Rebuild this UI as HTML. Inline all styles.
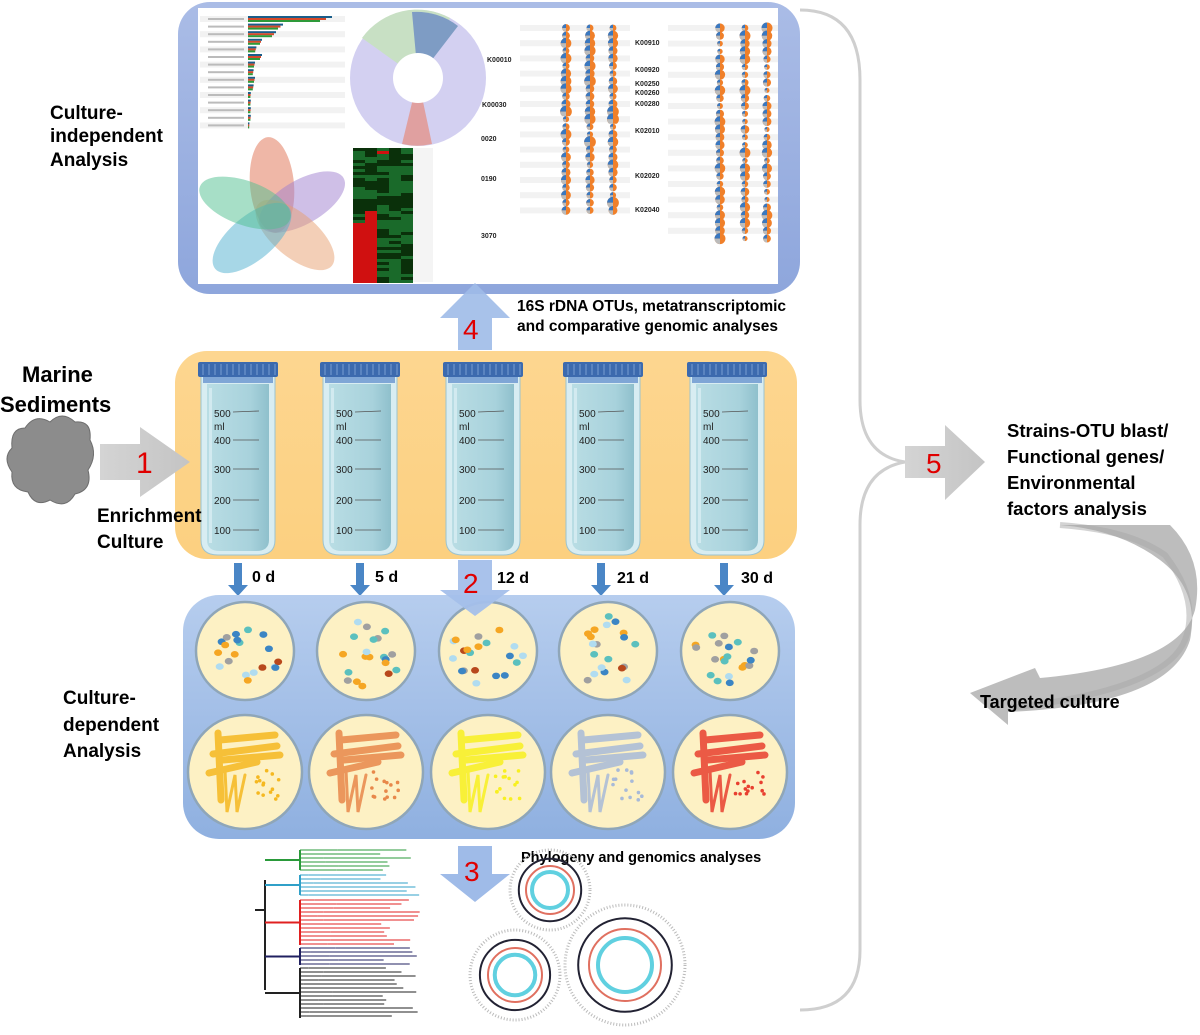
<!DOCTYPE html>
<html><head><meta charset="utf-8"><style>
html,body{margin:0;padding:0;background:#fff;width:1200px;height:1035px;overflow:hidden}
svg{display:block}
.b{font-family:"Liberation Sans",Arial,sans-serif;font-weight:bold;fill:#000}
.r{font-family:"Liberation Sans",Arial,sans-serif;fill:#e00000}
</style></head><body>
<svg id="s" width="1200" height="1035" viewBox="0 0 1200 1035" xmlns="http://www.w3.org/2000/svg">
<defs>
<linearGradient id="gTop" x1="0" y1="0" x2="0" y2="1"><stop offset="0" stop-color="#aabce6"/><stop offset="1" stop-color="#8ea6dc"/></linearGradient>
<linearGradient id="gBlue" x1="0" y1="0" x2="0" y2="1"><stop offset="0" stop-color="#b6cdee"/><stop offset="1" stop-color="#8fb0e0"/></linearGradient>
<linearGradient id="gOr" x1="0" y1="0" x2="0" y2="1"><stop offset="0" stop-color="#fdd690"/><stop offset="1" stop-color="#fcd080"/></linearGradient>
<linearGradient id="gArr" x1="0" y1="0" x2="1" y2="0"><stop offset="0" stop-color="#d4d4d4"/><stop offset="1" stop-color="#c4c4c4"/></linearGradient>
<linearGradient id="gLiq" x1="0" y1="0" x2="1" y2="0"><stop offset="0" stop-color="#b9dde4"/><stop offset="0.7" stop-color="#a8d2dc"/><stop offset="1" stop-color="#8fc0cc"/></linearGradient>
<symbol id="jar" viewBox="-42 0 84 200" width="84" height="200" overflow="visible">
 <path d="M-37 14 L-37 178 Q-37 193 -20 193 L20 193 Q37 193 37 178 L37 14 Z" fill="#d8edf2" stroke="#9cc3cf"/>
 <path d="M-31 22 L-31 178 Q-31 189 -18 189 L18 189 Q31 189 31 178 L31 22 Z" fill="url(#gLiq)"/>
 <rect x="-29" y="26" width="3" height="155" fill="#d8eef2" opacity=".8"/>
 <rect x="-40" y="0" width="80" height="15" rx="2" fill="#3c6aae"/>
 <g stroke="#6f95cc" stroke-width="1.2">
  <line x1="-35" y1="2" x2="-35" y2="13"/><line x1="-29" y1="2" x2="-29" y2="13"/><line x1="-23" y1="2" x2="-23" y2="13"/><line x1="-17" y1="2" x2="-17" y2="13"/><line x1="-11" y1="2" x2="-11" y2="13"/><line x1="-5" y1="2" x2="-5" y2="13"/><line x1="1" y1="2" x2="1" y2="13"/><line x1="7" y1="2" x2="7" y2="13"/><line x1="13" y1="2" x2="13" y2="13"/><line x1="19" y1="2" x2="19" y2="13"/><line x1="25" y1="2" x2="25" y2="13"/><line x1="31" y1="2" x2="31" y2="13"/><line x1="37" y1="2" x2="37" y2="13"/>
 </g>
 <rect x="-35" y="15" width="70" height="6" fill="#7fa6d6"/>
 <g stroke="#555" stroke-width=".8">
  <line x1="-5" y1="50" x2="21" y2="49"/><line x1="-5" y1="78" x2="21" y2="78"/><line x1="-5" y1="107" x2="21" y2="107"/><line x1="-5" y1="138" x2="21" y2="138"/><line x1="-5" y1="168" x2="21" y2="168"/>
 </g>
 <g font-family="Liberation Sans,Arial,sans-serif" font-size="10" fill="#222">
  <text x="-24" y="55">500</text><text x="-24" y="68">ml</text><text x="-24" y="82">400</text><text x="-24" y="111">300</text><text x="-24" y="142">200</text><text x="-24" y="172">100</text>
 </g>
</symbol>
</defs>

<rect x="178" y="2" width="622" height="292" rx="32" fill="url(#gTop)"/>
<rect x="198" y="8" width="580" height="276" fill="#fff"/>
<g id="topdeco"></g>

<text class="b" font-size="19" x="50" y="119">Culture-</text>
<text class="b" font-size="19" x="50" y="142">independent</text>
<text class="b" font-size="19" x="50" y="166">Analysis</text>

<path d="M475 283 L510 318 L492 318 L492 350 L458 350 L458 318 L440 318 Z" fill="#9fbbe8" opacity=".9"/>
<text class="r" font-size="28" x="463" y="339">4</text>
<text class="b" font-size="15.5" x="517" y="311">16S rDNA OTUs, metatranscriptomic</text>
<text class="b" font-size="15.5" x="517" y="331">and comparative genomic analyses</text>

<rect x="175" y="351" width="622" height="208" rx="32" fill="url(#gOr)"/>
<use href="#jar" x="196" y="362"/>
<use href="#jar" x="318" y="362"/>
<use href="#jar" x="441" y="362"/>
<use href="#jar" x="561" y="362"/>
<use href="#jar" x="685" y="362"/>

<text class="b" font-size="22" x="22" y="382">Marine</text>
<text class="b" font-size="22" x="0" y="412">Sediments</text>
<path d="M25 428 Q35 413 50 422 Q62 410 75 422 Q92 420 90 440 Q98 455 88 470 Q93 490 75 494 Q66 510 50 500 Q35 508 28 492 Q10 490 12 472 Q2 458 12 448 Q10 428 25 428 Z" fill="#8c8c8c" stroke="#6e6e6e"/>
<path d="M100 444 L140 444 L140 427 L190 462 L140 497 L140 480 L100 480 Z" fill="url(#gArr)"/>
<text class="r" font-size="30" x="136" y="473">1</text>
<text class="b" font-size="19" x="97" y="522">Enrichment</text>
<text class="b" font-size="19" x="97" y="548">Culture</text>

<g fill="#4a86c6">
<path d="M234 563 h8 v22 h6 l-10 11 l-10 -11 h6z"/>
<path d="M356 563 h8 v22 h6 l-10 11 l-10 -11 h6z"/>
<path d="M597 563 h8 v22 h6 l-10 11 l-10 -11 h6z"/>
<path d="M720 563 h8 v22 h6 l-10 11 l-10 -11 h6z"/>
</g>
<g class="b" font-size="16">
<text x="252" y="582">0 d</text><text x="375" y="582">5 d</text><text x="497" y="583">12 d</text><text x="617" y="583">21 d</text><text x="741" y="583">30 d</text>
</g>

<rect x="183" y="595" width="612" height="244" rx="36" fill="url(#gBlue)"/>
<g id="plates"></g>
<path d="M458 560 h34 v30 h18 l-35 26 l-35 -26 h18z" fill="#a4bfea" opacity=".95"/>
<text class="r" font-size="28" x="463" y="593">2</text>
<text class="b" font-size="19" x="63" y="704">Culture-</text>
<text class="b" font-size="19" x="63" y="731">dependent</text>
<text class="b" font-size="19" x="63" y="757">Analysis</text>

<path d="M458 846 h34 v28 h18 l-35 28 l-35 -28 h18z" fill="#9fbbe8"/>
<text class="r" font-size="28" x="464" y="881">3</text>
<text class="b" font-size="14.5" x="521" y="862">Phylogeny and genomics analyses</text>
<g id="bottomdeco"></g>

<path d="M800 10 Q860 10 860 80 L860 400 Q860 455 905 462 Q860 470 860 525 L860 950 Q860 1010 800 1010" fill="none" stroke="#cfcfcf" stroke-width="3"/>
<path d="M905 446 L945 446 L945 425 L985 462 L945 500 L945 478 L905 478 Z" fill="url(#gArr)"/>
<text class="r" font-size="28" x="926" y="473">5</text>
<g class="b" font-size="18.5">
<text x="1007" y="437">Strains-OTU blast/</text>
<text x="1007" y="463">Functional genes/</text>
<text x="1007" y="489">Environmental</text>
<text x="1007" y="515">factors analysis</text>
</g>
<path d="M1060 525 L1170 525 Q1205 560 1195 610 Q1180 665 1040 678 L1035 668 L970 693 L1008 725 L1008 712 Q1170 705 1190 640 Q1200 590 1160 560 Q1120 530 1060 525 Z" fill="#bdbdbd"/>
<path d="M1060 525 Q1130 530 1165 555 Q1200 600 1185 640 Q1165 690 1010 708" fill="none" stroke="#a8a8a8" stroke-width="6" opacity=".5"/>
<text class="b" font-size="18" x="980" y="708">Targeted culture</text>
</svg>
<script>
var NS="http://www.w3.org/2000/svg";
function el(p,t,a){var e=document.createElementNS(NS,t);for(var k in a)e.setAttribute(k,a[k]);p.appendChild(e);return e;}
var R=(function(){var s=7;return function(){s=(s*9301+49297)%233280;return s/233280;}})();
var P=document.getElementById("plates");
var cx=[245,366,488,608,730];
var cols=["#f5a623","#3b85c4","#5bc0be","#b0dcf0","#a0a0a0","#b8481c"];
var streak=["#f5b820","#e8884a","#f8f020","#a8bad8","#e84030"];
cx.forEach(function(x,i){
 el(P,"circle",{cx:x,cy:651,r:49,fill:"#fdf1c4",stroke:"#8fa6b8","stroke-width":2.5});
 for(var j=0;j<20;j++){var a=R()*6.28,d=Math.sqrt(R())*36;
  el(P,"ellipse",{cx:x+Math.cos(a)*d,cy:651+Math.sin(a)*d,rx:4,ry:3.3,fill:cols[Math.floor(R()*6)]});}
 el(P,"circle",{cx:x,cy:772,r:57,fill:"#fdf1c4",stroke:"#8fa6b8","stroke-width":2.5});
 var g=el(P,"g",{stroke:streak[i],"stroke-width":7,"stroke-linecap":"round",opacity:.85,fill:"none"});
 el(g,"line",{x1:x-25,y1:740,x2:x+30,y2:735});el(g,"line",{x1:x-32,y1:754,x2:x+32,y2:746});
 el(g,"line",{x1:x-22,y1:760,x2:x+35,y2:755});el(g,"line",{x1:x-36,y1:773,x2:x+12,y2:762});
 el(g,"line",{x1:x-27,y1:733,x2:x-24,y2:800});
 el(g,"polyline",{points:(x-20)+",770 "+(x-18)+",812 "+(x-10)+",775 "+(x-8)+",812 "+(x)+",775","stroke-width":3});
 for(var k=0;k<14;k++)el(P,"circle",{cx:x+5+R()*30,cy:770+R()*30,r:1.8,fill:streak[i]});
});
var T=document.getElementById("topdeco");
for(var i=0;i<15;i++){var y=16+i*7.6;el(T,"rect",{x:200,y:y,width:145,height:6,fill:i%2?"#fff":"#f2f2f2"});
 var w=[60,25,20,10,6,10,5,4,5,4,2,2,2,2,1][i];
 el(T,"rect",{x:248,y:y,width:w*1.4,height:2,fill:"#1a5e8a"});el(T,"rect",{x:248,y:y+2,width:w*1.3,height:2,fill:"#d64a2a"});el(T,"rect",{x:248,y:y+4,width:w*1.2,height:2,fill:"#2e9a3a"});
 el(T,"rect",{x:208,y:y+2,width:36,height:2,fill:"#bbb"});}
el(T,"circle",{cx:418,cy:78,r:68,fill:"#c8c4ee",opacity:.8});
el(T,"path",{d:"M418 78 L362 38 A68 68 0 0 1 450 18 Z",fill:"#c8e0c4"});
el(T,"path",{d:"M418 78 L412 12 A68 68 0 0 1 458 26 Z",fill:"#7e9cc4"});
el(T,"path",{d:"M418 78 L432 144 A68 68 0 0 1 402 144 Z",fill:"#e0a0a0"});
el(T,"circle",{cx:418,cy:78,r:25,fill:"#fff"});
[["#e07050",272,185,-5],["#a080d0",302,202,60],["#e8a070",295,235,130],["#50b0d0",252,238,-130],["#50c090",245,203,-70]].forEach(function(v){
 el(T,"ellipse",{cx:v[1],cy:v[2],rx:22,ry:48,fill:v[0],opacity:.5,transform:"rotate("+v[3]+" "+v[1]+" "+v[2]+")"});});
for(var r=0;r<45;r++)for(var c=0;c<5;c++){var v=R();var red=(c==1&&r>20)||(c==0&&r>24)||(c==2&&r<5&&R()>.3);
 el(T,"rect",{x:353+c*12,y:148+r*3,width:12,height:3,fill:red?"#d01010":(v>.5?"#1a6a2a":"#0a300a")});}
el(T,"rect",{x:413,y:148,width:20,height:134,fill:"#f4f4f4"});
function pie(x,y,r){el(T,"circle",{cx:x,cy:y,r:r,fill:"#f0802a"});el(T,"path",{d:"M"+x+" "+y+" L"+x+" "+(y-r)+" A"+r+" "+r+" 0 0 0 "+(x-r)+" "+y+" Z",fill:"#3a78c0"});el(T,"path",{d:"M"+x+" "+y+" L"+(x-r)+" "+y+" A"+r+" "+r+" 0 0 0 "+x+" "+(y+r)+" Z",fill:"#bbb"});}
for(var i=0;i<25;i++){var y=28+i*7.6;el(T,"rect",{x:520,y:y-3,width:110,height:6,fill:i%2?"#fff":"#f2f2f2"});[566,590,613].forEach(function(x){pie(x,y,3+R()*3);});}
for(var i=0;i<28;i++){var y=28+i*7.8;el(T,"rect",{x:668,y:y-3,width:110,height:6,fill:i%2?"#fff":"#f2f2f2"});[720,745,767].forEach(function(x){pie(x,y,2.5+R()*3);});}
var K=[["K00010",520,62],["K00030",515,107],["0020",514,141],["0190",514,181],["3070",514,238],["K00910",668,45],["K00920",668,72],["K00250",668,86],["K00260",668,95],["K00280",668,106],["K02010",668,133],["K02020",668,178],["K02040",668,212]];
K.forEach(function(k){var t=el(T,"text",{x:k[1]-33,y:k[2],"font-family":"Liberation Sans,Arial,sans-serif","font-size":"7","font-weight":"bold",fill:"#222"});t.textContent=k[0];});
var B=document.getElementById("bottomdeco");
var tc=[["#2a9a3a",850,870],["#30a0c8",875,895],["#e02020",900,945],["#202060",948,965],["#222",968,1018]];
el(B,"line",{x1:255,y1:910,x2:265,y2:910,stroke:"#222","stroke-width":2});
el(B,"line",{x1:265,y1:880,x2:265,y2:990,stroke:"#222","stroke-width":2});
tc.forEach(function(t){var g=el(B,"g",{stroke:t[0],"stroke-width":2,fill:"none"});
 el(g,"line",{x1:265,y1:(t[1]+t[2])/2,x2:300,y2:(t[1]+t[2])/2});el(g,"line",{x1:300,y1:t[1],x2:300,y2:t[2]});
 for(var y=t[1];y<=t[2];y+=4){var x0=300+R()*40;el(g,"line",{x1:300,y1:y,x2:x0,y2:y,"stroke-width":1});el(g,"line",{x1:x0,y1:y,x2:380+R()*40,y2:y,"stroke-width":1});}});
[[550,890,40],[515,975,45],[625,965,60]].forEach(function(c){
 el(B,"circle",{cx:c[0],cy:c[1],r:c[2],fill:"none",stroke:"#bbb","stroke-width":3,"stroke-dasharray":"1 2"});
 el(B,"circle",{cx:c[0],cy:c[1],r:c[2]*.78,fill:"none",stroke:"#223","stroke-width":2});
 el(B,"circle",{cx:c[0],cy:c[1],r:c[2]*.6,fill:"none",stroke:"#e07060","stroke-width":2});
 el(B,"circle",{cx:c[0],cy:c[1],r:c[2]*.45,fill:"none",stroke:"#60d0e0","stroke-width":4});});
</script>
</body></html>
